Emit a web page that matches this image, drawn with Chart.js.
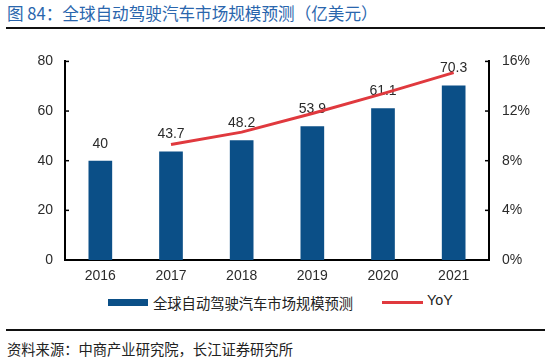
<!DOCTYPE html>
<html>
<head>
<meta charset="utf-8">
<script src="https://cdn.jsdelivr.net/npm/chart.js@4"></script>
<style>
    body { margin: 0; width: 550px; height: 360px; background: #fff; position: relative; overflow: hidden; }
    .title { position: absolute; left: 7px; top: 1px; font: 16.6px "Noto Sans CJK SC", sans-serif; color: #2a66ad; white-space: nowrap; }
    .rule { position: absolute; left: 6px; width: 539px; height: 2px; background: #111; }
    .source { position: absolute; left: 7px; top: 338px; font: 14.3px "Noto Sans CJK SC", sans-serif; color: #222; white-space: nowrap; }
    #chart { position: absolute; left: 0; top: 40px; }
    .legend { position: absolute; top: 294px; left: 0; font: 14.3px "Noto Sans CJK SC", sans-serif; color: #222; }
    .legend span { position: absolute; white-space: nowrap; }
</style>
</head>
<body>
<div class="title">图 84：全球自动驾驶汽车市场规模预测（亿美元）</div>
<div class="rule" style="top:27px"></div>

<canvas id="chart" width="550" height="250"></canvas>

<div class="legend">
    <span style="left:108px; top:5px; width:40px; height:7px; background:#0b4f87"></span>
    <span style="left:153px; top:-2px">全球自动驾驶汽车市场规模预测</span>
    <span style="left:382px; top:7px; width:41px; height:3px; background:#e0393e"></span>
    <span style="left:427px; top:-2px; font-family:'Liberation Sans', Arial, sans-serif">YoY</span>
</div>

<div class="rule" style="top:329px"></div>
<div class="source">资料来源：中商产业研究院，长江证券研究所</div>

<script>
// Chart data
const years = ['2016', '2017', '2018', '2019', '2020', '2021'];
const marketSize = [40, 43.7, 48.2, 53.9, 61.1, 70.3];
const yoy = [null, 9.3, 10.3, 11.8, 13.4, 15.1];
const leftTicks = [0, 20, 40, 60, 80];
const rightTicks = [0, 4, 8, 12, 16];

const FONT = "'Liberation Sans', Arial, sans-serif";
const TEXT = '#2b2b2b';

// Value labels above the bars (drawn before the line so the line sits on top)
const barLabels = {
    id: 'barLabels',
    afterDatasetDraw(chart, args) {
        if (args.index !== 0) return;
        const ctx = chart.ctx;
        ctx.save();
        ctx.font = '14px ' + FONT;
        ctx.fillStyle = TEXT;
        ctx.textAlign = 'center';
        ctx.textBaseline = 'middle';
        args.meta.data.forEach((bar, i) => {
            ctx.fillText(String(marketSize[i]), bar.x, bar.y - 17);
        });
        ctx.restore();
    }
};

// Short tick marks pointing into the plot
const innerTicks = {
    id: 'innerTicks',
    afterDraw(chart) {
        const ctx = chart.ctx;
        const area = chart.chartArea;
        ctx.save();
        ctx.strokeStyle = '#000';
        ctx.lineWidth = 1.5;
        leftTicks.forEach(v => {
            const y = chart.scales.y.getPixelForValue(v);
            ctx.beginPath();
            ctx.moveTo(area.left, y);
            ctx.lineTo(area.left + 4, y);
            ctx.stroke();
        });
        rightTicks.forEach(v => {
            const y = chart.scales.y2.getPixelForValue(v);
            ctx.beginPath();
            ctx.moveTo(area.right, y);
            ctx.lineTo(area.right - 4, y);
            ctx.stroke();
        });
        ctx.restore();
    }
};

new Chart(document.getElementById('chart'), {
    data: {
        labels: years,
        datasets: [
            {
                type: 'bar',
                label: '全球自动驾驶汽车市场规模预测',
                data: marketSize,
                backgroundColor: '#0b4f87',
                categoryPercentage: 1,
                barPercentage: 0.335,
                yAxisID: 'y',
                order: 2
            },
            {
                type: 'line',
                label: 'YoY',
                data: yoy,
                borderColor: '#e0393e',
                borderWidth: 3,
                pointRadius: 0,
                tension: 0,
                yAxisID: 'y2',
                order: 1
            }
        ]
    },
    options: {
        responsive: false,
        devicePixelRatio: 1,
        animation: false,
        layout: { padding: { top: 20, left: 0, right: 0, bottom: 0 } },
        plugins: {
            legend: { display: false },
            tooltip: { enabled: false }
        },
        scales: {
            x: {
                grid: { display: false, drawTicks: false },
                border: { display: true, color: '#000', width: 2 },
                ticks: { padding: 8, color: TEXT, font: { family: FONT, size: 14 } },
                afterFit: s => { s.height = 30; }
            },
            y: {
                position: 'left',
                min: 0,
                max: 80,
                afterBuildTicks: s => { s.ticks = leftTicks.map(v => ({ value: v })); },
                grid: { display: false, drawTicks: false },
                border: { display: true, color: '#000', width: 2 },
                ticks: { padding: 12, color: TEXT, font: { family: FONT, size: 14 } },
                afterFit: s => { s.width = 65; }
            },
            y2: {
                position: 'right',
                min: 0,
                max: 16,
                afterBuildTicks: s => { s.ticks = rightTicks.map(v => ({ value: v })); },
                grid: { display: false, drawTicks: false },
                border: { display: true, color: '#000', width: 2 },
                ticks: {
                    padding: 13,
                    color: TEXT,
                    font: { family: FONT, size: 14 },
                    callback: v => v + '%'
                },
                afterFit: s => { s.width = 61; }
            }
        }
    },
    plugins: [barLabels, innerTicks]
});
</script>
</body>
</html>
